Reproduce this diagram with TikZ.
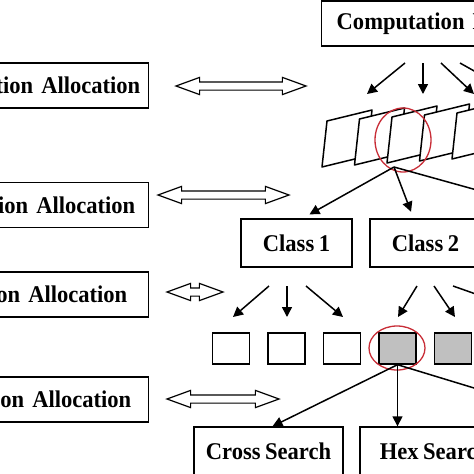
\documentclass[tikz,border=0pt]{standalone}
\usepackage{fontspec}
\setmainfont[FakeStretch=0.94, WordSpace=0.8]{Liberation Serif}
\usetikzlibrary{shapes.arrows,arrows.meta}

\definecolor{ringred}{RGB}{200,45,55}
\definecolor{blockgray}{RGB}{192,192,192}

\tikzset{
  box/.style={draw, line width=1.4pt, inner sep=0pt, font=\bfseries\fontsize{24}{26}\selectfont},
  allocbox/.style={box, anchor=east, minimum height=45pt, text width=220pt, align=right, inner xsep=#1},
  blockbox/.style={draw, line width=1.4pt, minimum width=37pt, minimum height=31pt, inner sep=0pt},
  framebox/.style={draw, fill=white, line width=1.5pt, line join=round},
  link/.style={line width=1.5pt, -{Triangle[length=10pt,width=10pt]}},
  swap/.style={draw, fill=white, line width=1.2pt, double arrow, double arrow head extend=4.5pt,
    double arrow tip angle=40, inner xsep=0pt, inner ysep=3.5pt},
  ring/.style={draw=ringred, line width=1.3pt}
}

\begin{document}
\begin{tikzpicture}[x=1pt, y=-1pt]
\useasboundingbox (0,0) rectangle (474,474);
\clip (0,0) rectangle (474,474);

% left column
\node[allocbox=8pt] (alloc1) at (149,85.5) {tion Allocation};
\node[allocbox=13pt] (alloc2) at (149,205) {ion Allocation};
\node[allocbox=21pt] (alloc3) at (149,294.5) {on Allocation};
\node[allocbox=17pt] (alloc4) at (149,399.5) {ion Allocation};

\node[swap, minimum height=130pt] (swap1) at (241,86) {};
\node[swap, minimum height=131pt] (swap2) at (223.5,195) {};
\node[swap, minimum height=56pt] (swap3) at (195,292) {};
\node[swap, minimum height=112pt] (swap4) at (223,399) {};

% top box and frames
\node[box, anchor=west, minimum height=45pt, text width=200pt, align=left, inner xsep=15pt] (comp) at (321,23.5) {Computation B};

\foreach \i in {0,...,4}
  \draw[framebox, shift={(\i*32.5,-\i*2)}] (322,167) -- ++(5,-46) -- ++(45,-11) -- ++(-5,46) -- cycle;
\draw[ring] (403,140) ellipse [x radius=28, y radius=32];

\foreach \sx/\ex [count=\k] in {405/367, 423/423, 441/474, 460/515} {
  \coordinate (ctop\k) at (\sx,63);
  \coordinate (ctip\k) at (\ex,94);
  \draw[link] (ctop\k) -- (ctip\k);
}

% classes
\node[box, minimum width=111pt, minimum height=48pt] (class1) at (296.5,243) {Class 1};
\node[box, minimum width=111pt, minimum height=48pt] (class2) at (425.5,243) {Class 2};

\coordinate (fsrc) at (394,167);
\coordinate (fout) at (520,202);
\draw[link, shorten >=8pt] (fsrc) -- ([xshift=6pt]class1.north);
\draw[link, shorten >=7pt] (fsrc) -- ([xshift=-12pt]class2.north);
\draw[link] (fsrc) -- (fout);

\foreach \sx/\ex [count=\k] in {269/233, 287/287, 306/343, 417/398, 434/455, 453/541} {
  \coordinate (ktop\k) at (\sx,286);
  \coordinate (ktip\k) at (\ex,317);
  \draw[link] (ktop\k) -- (ktip\k);
}

% blocks
\foreach \bx/\bc [count=\k] in {231/white, 286.5/white, 342/white, 397.5/blockgray, 453/blockgray}
  \node[blockbox, fill=\bc] (sq\k) at (\bx,348.5) {};
\draw[ring] (397,348) ellipse [x radius=28, y radius=22];

% searches
\node[box, minimum width=149pt, minimum height=48pt] (cross) at (268.5,451) {Cross Search};
\node[box, minimum width=149pt, minimum height=48pt] (hex) at (434.5,451) {Hex Search};

\coordinate (sout) at (520,402);
\draw[link] (sq4.south) -- ([xshift=4pt]cross.north);
\draw[link] (sq4.south) -- (sq4.south |- hex.north);
\draw[link] (sq4.south) -- (sout);
\end{tikzpicture}
\end{document}
